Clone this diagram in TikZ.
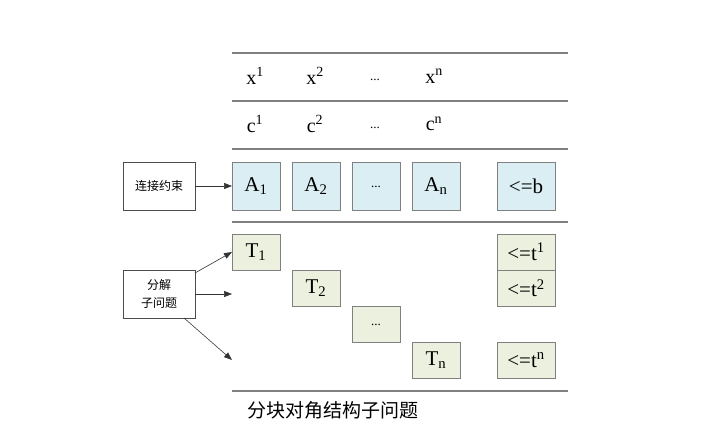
\documentclass[tikz,border=0pt]{standalone}
\usepackage{fontspec}
\setmainfont{Liberation Serif}
\newfontfamily\cjk{Noto Sans CJK SC}
\usetikzlibrary{arrows.meta,positioning}
\definecolor{blkblue}{RGB}{218,238,243}
\definecolor{blkgreen}{RGB}{235,241,222}
\definecolor{blkedge}{RGB}{128,128,128}

\begin{document}
\begin{tikzpicture}[x=1pt,y=-1pt,
  blk/.style={draw=blkedge,line width=1pt,fill=#1,minimum width=48pt,minimum height=48pt,inner sep=0pt,outer sep=0pt,font=\fontsize{21}{21}\selectfont},
  sub/.style={blk=blkgreen,minimum height=36pt},
  note/.style={draw=black!70,line width=0.8pt,fill=white,minimum width=72pt,inner sep=0pt,outer sep=0pt,align=center,font=\cjk\fontsize{12}{18}\selectfont},
  rule/.style={draw=blkedge,line width=1.2pt},
  val/.style={font=\fontsize{20}{20}\selectfont},
  dots/.style={font=\fontsize{13}{13}\selectfont},
  link/.style={-{Triangle[length=8pt,width=6pt]},line width=0.6pt,draw=black!80}
]
\useasboundingbox (0,0) rectangle (720,447);
% rules of the table
\foreach \y in {53,101,149,222,391} \draw[rule] (232,\y) -- (568,\y);
% variable and cost rows
\node[val] (x1) at (255,76) {x\textsuperscript{1}};
\node[val] (x2) at (315,76) {x\textsuperscript{2}};
\node[dots] (xd) at (375,80) {...};
\node[val] (xn) at (434,76) {x\textsuperscript{n}};
\node[val] (c1) at (255,124) {c\textsuperscript{1}};
\node[val] (c2) at (315,124) {c\textsuperscript{2}};
\node[dots] (cd) at (375,128) {...};
\node[val] (cn) at (434,124) {c\textsuperscript{n}};
% linking block
\node[blk=blkblue] (a1) at (256,186) {A\textsubscript{1}};
\node[blk=blkblue] (a2) at (316,186) {A\textsubscript{2}};
\node[blk=blkblue,dots] (ad) at (376,186) {\raisebox{-4pt}{...}};
\node[blk=blkblue] (an) at (436,186) {A\textsubscript{n}};
\node[blk=blkblue,minimum width=58pt] (b) at (526,186) {<=b};
% diagonal blocks
\node[sub] (t1) at (256,252) {T\textsubscript{1}};
\node[sub] (t2) at (316,288) {T\textsubscript{2}};
\node[sub,dots] (td) at (376,324) {\raisebox{-4pt}{...}};
\node[sub] (tn) at (436,360) {T\textsubscript{n}};
\node[sub,minimum width=58pt] (r1) at (526,252) {<=t\textsuperscript{1}};
\node[sub,minimum width=58pt] (r2) at (526,288) {<=t\textsuperscript{2}};
\node[sub,minimum width=58pt] (rn) at (526,360) {<=t\textsuperscript{n}};
% side notes
\node[note,minimum height=48pt] (link) at (159,186) {连接约束};
\node[note,minimum height=48pt] (split) at (159,294) {分解\\子问题};
\coordinate (e2) at (232,294);
\coordinate (en) at (232,360);
\draw[link] (link) -- (a1);
\draw[link] (split.north east) ++(0,3) -- (t1.west);
\draw[link] (split.east) -- (e2);
\draw[link] (split.south east) ++(-11,0) -- (en);
\node[font=\cjk\fontsize{19}{19}\selectfont] (cap) at (333,410) {分块对角结构子问题};
\end{tikzpicture}
\end{document}
